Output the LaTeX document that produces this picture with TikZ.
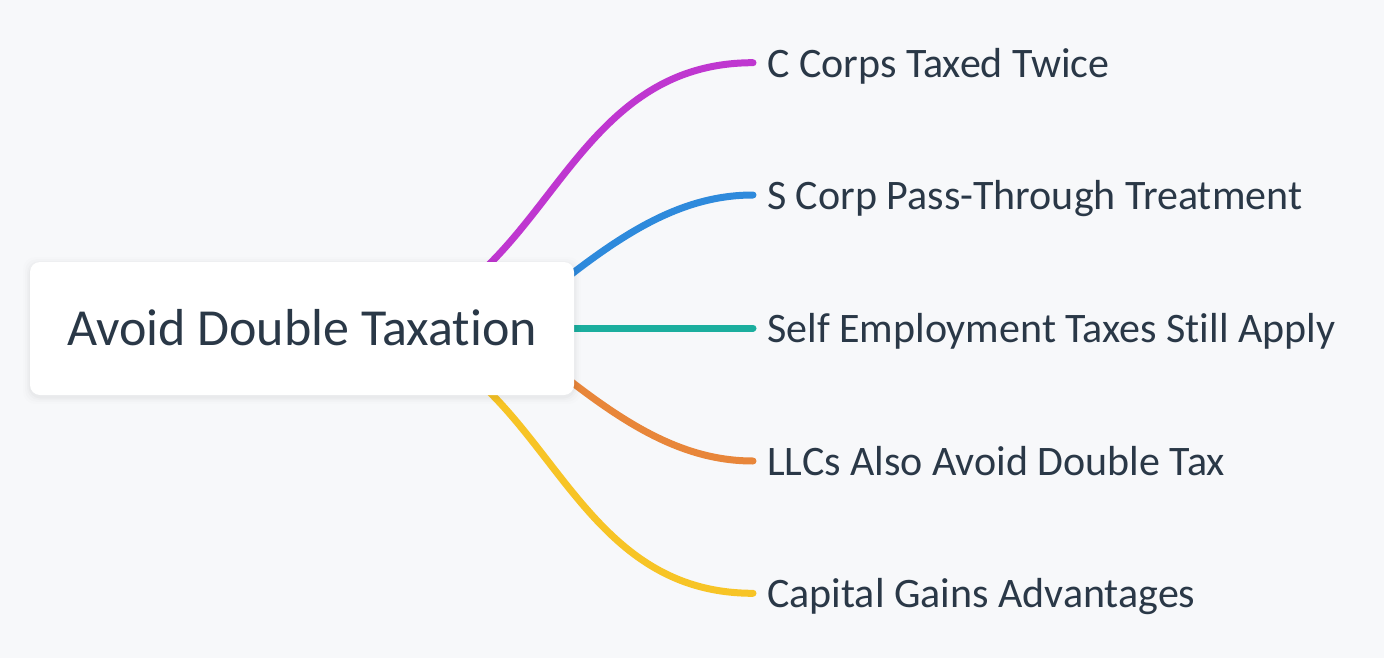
\documentclass[tikz,border=0pt]{standalone}
\usepackage{fontspec}
\setmainfont{Carlito}[Ligatures={NoCommon}]
\definecolor{bgc}{RGB}{247,248,250}
\definecolor{txt}{RGB}{42,56,71}
\definecolor{cmag}{RGB}{191,55,208}
\definecolor{cblue}{RGB}{46,138,220}
\definecolor{cteal}{RGB}{27,174,158}
\definecolor{corange}{RGB}{232,134,58}
\definecolor{cyellow}{RGB}{247,196,38}
\pgfdeclarelayer{bglayer}
\pgfdeclarelayer{edges}
\pgfsetlayers{bglayer,edges,main}
\tikzset{
  rootbox/.style={rectangle, rounded corners=10pt, fill=white, draw=none,
    minimum width=544pt, minimum height=133pt, inner sep=0pt,
    text=txt, font=\fontsize{52}{60}\selectfont, text height=34pt, text depth=0pt},
  leaf/.style={anchor=base west, inner sep=0pt, text=txt,
    font=\fontsize{42}{50}\selectfont},
  link/.style={line width=7pt, line cap=round}
}
\begin{document}
\begin{tikzpicture}[x=1pt,y=-1pt]
\useasboundingbox (0,0) rectangle (1384,658);
\begin{pgfonlayer}{bglayer}
\fill[bgc] (0,0) rectangle (1384,658);
\end{pgfonlayer}
% soft shadow of root box
\foreach \s/\o in {7/0.008,5/0.012,3/0.016,1.5/0.02}{
  \fill[black,opacity=\o,rounded corners=12pt] (30-\s,262-\s+2) rectangle (574+\s,395+\s+2);
}
\node[rootbox] (root) at (302,328.5) {Avoid Double Taxation};
\node[leaf] (l1) at (767,77.5) {C Corps Taxed Twice};
\node[leaf] (l2) at (767,209.5) {S Corp Pass-Through Treatment};
\node[leaf] (l3) at (767,342.5) {Self Employment Taxes Still Apply};
\node[leaf] (l4) at (767,475.5) {LLCs Also Avoid Double Tax};
\node[leaf] (l5) at (767,607.5) {Capital Gains Advantages};
% connector end points
\coordinate (s1) at (342,328);   \coordinate (e1) at (753,62.7);
\coordinate (s2) at (550,291);   \coordinate (e2) at (753,195);
\coordinate (s3) at (560,328);   \coordinate (e3) at (753,328);
\coordinate (s4) at (550,365);   \coordinate (e4) at (753,461);
\coordinate (s5) at (342,328);   \coordinate (e5) at (753,593.3);
\begin{pgfonlayer}{edges}
\draw[link,cmag] (s1) .. controls (547.5,328) and (547.5,62.7) .. (e1);
\draw[link,cblue] (s2) .. controls (620,235) and (680,195) .. (e2);
\draw[link,cteal] (s3) -- (e3);
\draw[link,corange] (s4) .. controls (620,421) and (680,461) .. (e4);
\draw[link,cyellow] (s5) .. controls (547.5,328) and (547.5,593.3) .. (e5);
\end{pgfonlayer}
\end{tikzpicture}
\end{document}
